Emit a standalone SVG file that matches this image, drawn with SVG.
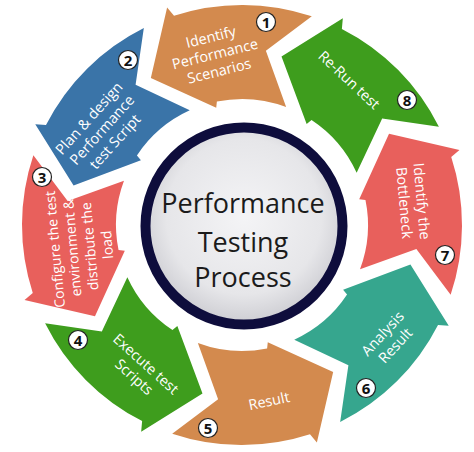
<svg xmlns="http://www.w3.org/2000/svg" width="474" height="452" viewBox="0 0 474 452">
<defs>
<path id="arrow" d="M219.87,-7.68 A220,220 0 0 0 172.17,-136.95 L177.47,-146.3 L105.79,-136.88 L100.75,-65.18 L106.85,-66.77 A126,126 0 0 1 126,0 L171.69,-38.69 Z"/>
<radialGradient id="hubfill" cx="50%" cy="45%" r="55%">
<stop offset="0" stop-color="#f4f4f6"/>
<stop offset="0.75" stop-color="#e6e6e9"/>
<stop offset="1" stop-color="#d0d0d5"/>
</radialGradient>
</defs>
<style>
.lbl{font-family:"Open Sans","Liberation Sans",sans-serif;font-size:14.5px;fill:#ffffff;text-anchor:middle}
.lbl3{font-size:14px}
.num{font-family:"Open Sans","Liberation Sans",sans-serif;font-size:15px;font-weight:700;fill:#111111;text-anchor:middle}
.badge{fill:#ffffff;stroke:#222222;stroke-width:1.2}
.title{font-family:"Open Sans","Liberation Sans",sans-serif;font-size:27px;fill:#1b1b1b;text-anchor:middle}
.orange{fill:#D38A4E}.blue{fill:#3A74A8}.red{fill:#E8605C}.green{fill:#3E9D1D}.teal{fill:#36A68E}
</style>
<rect width="474" height="452" fill="#ffffff"/>

<g id="step1">
<use href="#arrow" class="orange" transform="translate(242,225) rotate(-69.5)"/>
<g transform="translate(215,54) rotate(-14)">
<text class="lbl" y="-12.5">Identify</text>
<text class="lbl" y="5">Performance</text>
<text class="lbl" y="22.5">Scenarios</text>
</g>
<circle class="badge" cx="266" cy="22" r="9.5"/><text class="num" x="266" y="27.5">1</text>
</g>

<g id="step2">
<use href="#arrow" class="blue" transform="translate(242,225) rotate(-114.5)"/>
<g transform="translate(102,130) rotate(-48)">
<text class="lbl" y="-12.5">Plan &amp; design</text>
<text class="lbl" y="5">Performance</text>
<text class="lbl" y="22.5">test Script</text>
</g>
<circle class="badge" cx="128" cy="60" r="9.5"/><text class="num" x="128" y="65.5">2</text>
</g>

<g id="step3">
<use href="#arrow" class="red" transform="translate(242,225) rotate(-159.5)"/>
<g transform="translate(81,247) rotate(-95)">
<text class="lbl lbl3" y="-21.25">Configure the test</text>
<text class="lbl lbl3" y="-3.75">environment &amp;</text>
<text class="lbl lbl3" y="13.75">distribute the</text>
<text class="lbl lbl3" y="31.25">load</text>
</g>
<circle class="badge" cx="42" cy="177" r="9.5"/><text class="num" x="42" y="182.5">3</text>
</g>

<g id="step4">
<use href="#arrow" class="green" transform="translate(242,225) rotate(155.5)"/>
<g transform="translate(140,370.5) rotate(42)">
<text class="lbl" y="-3.75">Execute test</text>
<text class="lbl" y="13.75">Scripts</text>
</g>
<circle class="badge" cx="78" cy="340" r="9.5"/><text class="num" x="78" y="345.5">4</text>
</g>

<g id="step5">
<use href="#arrow" class="orange" transform="translate(242,225) rotate(110.5)"/>
<text class="lbl" transform="translate(269,401) rotate(-12)" y="5">Result</text>
<circle class="badge" cx="208" cy="428" r="9.5"/><text class="num" x="208" y="433.5">5</text>
</g>

<g id="step6">
<use href="#arrow" class="teal" transform="translate(242,225) rotate(65.5)"/>
<g transform="translate(389,339.5) rotate(-47)">
<text class="lbl" y="-3.75">Analysis</text>
<text class="lbl" y="13.75">Result</text>
</g>
<circle class="badge" cx="366" cy="388" r="9.5"/><text class="num" x="366" y="393.5">6</text>
</g>

<g id="step7">
<use href="#arrow" class="red" transform="translate(242,225) rotate(20.5)"/>
<g transform="translate(413,202) rotate(85)">
<text class="lbl" y="-3.75">Identify the</text>
<text class="lbl" y="13.75">Bottleneck</text>
</g>
<circle class="badge" cx="445" cy="255" r="9.5"/><text class="num" x="445" y="260.5">7</text>
</g>

<g id="step8">
<use href="#arrow" class="green" transform="translate(242,225) rotate(-24.5)"/>
<text class="lbl" transform="translate(349,80) rotate(43)" y="5">Re-Run test</text>
<circle class="badge" cx="407" cy="100" r="9.5"/><text class="num" x="407" y="105.5">8</text>
</g>

<g id="hub">
<circle cx="244" cy="226" r="94" fill="url(#hubfill)"/>
<circle cx="244" cy="226" r="98.5" fill="none" stroke="#0e0d3c" stroke-width="10"/>
<text class="title" x="243" y="213">Performance</text>
<text class="title" x="243" y="252">Testing</text>
<text class="title" x="243" y="287">Process</text>
</g>
</svg>
